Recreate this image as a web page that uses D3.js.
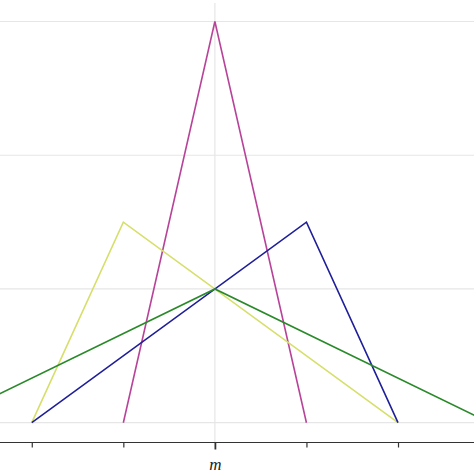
<!DOCTYPE html>
<html>
<head>
<meta charset="utf-8">
<script src="https://cdn.jsdelivr.net/npm/d3@7"></script>
<style>
html,body{margin:0;padding:0;background:#fff;}
svg{display:block;}
</style>
</head>
<body>
<script>
// ---- data ----
const tickValues = [-2, -1, 0, 1, 2];
const tickLabels = ["", "", "m", "", ""];
const gridValues = [0, 1/3, 2/3, 1];

const pinkX = [-1, 0, 1];
const pinkY = [0, 1, 0];
const yellowX = [-2, -1, 2];
const yellowY = [0, 0.5, 0];
const blueX = [-2, 1, 2];
const blueY = [0, 0.5, 0];
const greenX = [-3, 0, 3];
const greenY = [0, 1/3, 0];

const seriesNames = ["pink", "yellow", "blue", "green"];
const seriesColors = ["#b8449a", "#d6df6a", "#1f1f9a", "#2a8a2a"];

// ---- layout ----
const W = 474, H = 474;
const svg = d3.select("body").append("svg").attr("width", W).attr("height", H);

const x = d3.scaleLinear().domain([-2.347, 2.83]).range([0, 474]);
const y = d3.scaleLinear().domain([0, 1]).range([422.7, 21.5]);
const axisY = 442.5;

// horizontal grid
svg.append("g").selectAll("line").data(gridValues).join("line")
  .attr("x1", 0).attr("x2", W)
  .attr("y1", d => y(d)).attr("y2", d => y(d))
  .attr("stroke", "#e6e6e6").attr("stroke-width", 1.2);

// vertical grid at m
svg.append("line")
  .attr("x1", x(0)).attr("x2", x(0))
  .attr("y1", 3).attr("y2", axisY)
  .attr("stroke", "#e6e6e6").attr("stroke-width", 1.2);

// series
const data = [
  {name: seriesNames[0], xs: pinkX, ys: pinkY, color: seriesColors[0]},
  {name: seriesNames[1], xs: yellowX, ys: yellowY, color: seriesColors[1]},
  {name: seriesNames[2], xs: blueX, ys: blueY, color: seriesColors[2]},
  {name: seriesNames[3], xs: greenX, ys: greenY, color: seriesColors[3]}
];
const line = d3.line().x(d => x(d[0])).y(d => y(d[1]));
svg.append("defs").append("clipPath").attr("id", "clip")
  .append("rect").attr("x", 0).attr("y", 0).attr("width", W).attr("height", axisY);
svg.append("g").attr("clip-path", "url(#clip)")
  .selectAll("path").data(data).join("path")
  .attr("d", s => line(s.xs.map((v, i) => [v, s.ys[i]])))
  .attr("fill", "none")
  .attr("stroke", s => s.color)
  .attr("stroke-width", 1.6)
  .attr("stroke-linejoin", "miter");

// x axis
const xAxis = d3.axisBottom(x)
  .tickValues(tickValues)
  .tickSize(5)
  .tickSizeOuter(0)
  .tickFormat((d, i) => tickLabels[i]);
const gx = svg.append("g").attr("transform", `translate(0,${axisY})`).call(xAxis);
gx.select(".domain").remove();
gx.append("line").attr("x1", 0).attr("x2", W).attr("y1", 0).attr("y2", 0)
  .attr("stroke", "#333").attr("stroke-width", 1.2);
gx.selectAll(".tick line").attr("stroke", "#333").attr("stroke-width", 1.2);
gx.selectAll(".tick").filter(d => d === 0).select("line")
  .attr("y2", 7).attr("stroke-width", 1.8);
gx.selectAll(".tick text")
  .attr("y", 27.5)
  .attr("dy", 0)
  .attr("font-family", "'Liberation Serif', 'DejaVu Serif', serif")
  .attr("font-style", "italic")
  .attr("font-size", 17)
  .attr("fill", "#222");
</script>
</body>
</html>
